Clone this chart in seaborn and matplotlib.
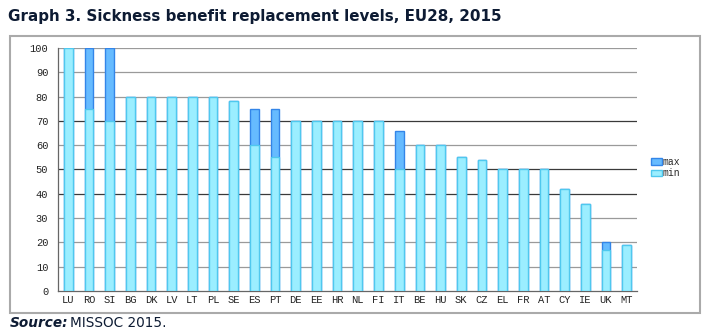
import matplotlib
matplotlib.use("Agg")
import matplotlib.pyplot as plt
import matplotlib.patches as mpatches
import seaborn as sns
import pandas as pd
import numpy as np

countries = ["LU", "RO", "SI", "BG", "DK", "LV", "LT", "PL", "SE", "ES", "PT", "DE", "EE", "HR",
             "NL", "FI", "IT", "BE", "HU", "SK", "CZ", "EL", "FR", "AT", "CY", "IE", "UK", "MT"]
min_vals = [100, 75, 70, 80, 80, 80, 80, 80, 78, 60, 55, 70, 70, 70,
            70, 70, 50, 60, 60, 55, 54, 50, 50, 50, 42, 36, 17, 19]
max_vals = [100, 100, 100, 80, 80, 80, 80, 80, 78, 75, 75, 70, 70, 70,
            70, 70, 66, 60, 60, 55, 54, 50, 50, 50, 42, 36, 20, 19]

df = pd.DataFrame({"country": countries, "min": min_vals, "max": max_vals})

sns.set_style("white")
fig = plt.figure(figsize=(7.05, 3.32), dpi=100)
ax = fig.add_axes([0.0823, 0.1235, 0.8212, 0.732])

max_fill, max_edge = "#66bbff", "#3385e8"
min_fill, min_edge = "#9beeff", "#4fc8ee"

# grid lines
for v in range(10, 101, 10):
    col = "#3a3a3a" if v in (40, 50, 70) else "#9a9a9a"
    ax.axhline(v, color=col, lw=0.9, zorder=0)

sns.barplot(data=df, x="country", y="max", color=max_fill, edgecolor=max_edge,
            linewidth=1.0, width=0.42, saturation=1, ax=ax, zorder=2)
sns.barplot(data=df, x="country", y="min", color=min_fill, edgecolor=min_edge,
            linewidth=1.0, width=0.42, saturation=1, ax=ax, zorder=3)

ax.set_xlim(-0.5, len(countries) - 0.5)
ax.set_ylim(0, 100)
ax.set_xlabel("")
ax.set_ylabel("")
ax.set_yticks(range(0, 101, 10))
mono = "Liberation Mono"
ax.tick_params(axis="y", length=4, width=0.8, color="#555555", labelsize=7.5, pad=3)
ax.tick_params(axis="x", length=0, labelsize=7.5, pad=3)
ax.set_xticks(np.arange(-0.5, len(countries), 1.0), minor=True)
ax.tick_params(axis="x", which="minor", length=3, width=0.8, color="#555555")
for lab in ax.get_xticklabels() + ax.get_yticklabels():
    lab.set_fontfamily(mono)
    lab.set_color("#222222")

for s in ["top", "right"]:
    ax.spines[s].set_visible(False)
for s in ["left", "bottom"]:
    ax.spines[s].set_color("#666666")
    ax.spines[s].set_linewidth(0.9)

# legend
handles = [mpatches.Patch(facecolor=max_fill, edgecolor=max_edge, label="max"),
           mpatches.Patch(facecolor=min_fill, edgecolor=min_edge, label="min")]
fig.legend(handles=handles, loc="center left", bbox_to_anchor=(0.918, 0.495),
           frameon=False, prop={"family": mono, "size": 7}, handlelength=1.1,
           handleheight=0.6, handletextpad=0.1, labelspacing=0.15, borderaxespad=0)

# frame around chart
frame = mpatches.Rectangle((10 / 705, 1 - 313 / 332), 690 / 705, 277 / 332,
                           transform=fig.transFigure, fill=False,
                           edgecolor="#aaaaaa", lw=1.5, zorder=-1)
fig.patches.append(frame)

fig.text(8 / 705, 1 - 17 / 332, "Graph 3. Sickness benefit replacement levels, EU28, 2015",
         fontsize=10.9, fontweight="bold", color="#0d1b33", va="center", ha="left",
         family="DejaVu Sans")
fig.text(10 / 705, 1 - 323 / 332, "Source:", fontsize=9.8, fontweight="bold",
         fontstyle="italic", color="#0d1b33", va="center", ha="left", family="DejaVu Sans")
fig.text(70 / 705, 1 - 323 / 332, "MISSOC 2015.", fontsize=9.8, color="#0d1b33",
         va="center", ha="left", family="DejaVu Sans")

fig.savefig("out.png", dpi=100)
